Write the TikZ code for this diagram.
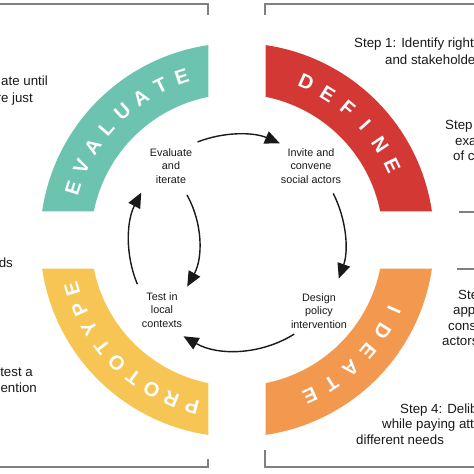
\documentclass[tikz,border=0pt]{standalone}
\usepackage{fontspec}
\setmainfont{Liberation Sans}
\usetikzlibrary{arrows.meta,calc}
\definecolor{cteal}{RGB}{108,196,176}
\definecolor{cred}{RGB}{211,56,52}
\definecolor{cyellow}{RGB}{246,197,84}
\definecolor{corange}{RGB}{243,152,79}
\definecolor{framegray}{RGB}{128,128,128}
\definecolor{textc}{RGB}{25,25,25}
\begin{document}
\begin{tikzpicture}[x=1pt,y=1pt,
  frame/.style={draw=framegray, line width=2.5pt},
  cyc/.style={line width=1.4pt, draw=textc, -{Triangle[length=15pt,width=13pt]}},
  inner/.style={align=center, font=\fontsize{10.8}{13.5}\selectfont, inner sep=0pt, text=textc},
  side/.style={font=\fontsize{13.3}{15.5}\selectfont, inner sep=0pt, text=textc},
  letter/.style={font=\fontsize{20}{20}\selectfont\bfseries, text=white, inner sep=0pt}]
\useasboundingbox (0,0) rectangle (474,474);
\clip (0,0) rectangle (474,474);
\coordinate (A) at (237,234);
\coordinate (B) at (237,231.5);
\coordinate (L) at (105,233);
% quadrant bands
\fill[cteal] ($(A)+(98.32:197pt)$) arc[start angle=98.32,end angle=171.68,radius=197pt]
  -- ($(A)+(168.74:146pt)$) arc[start angle=168.74,end angle=101.26,radius=146pt] -- cycle;
\fill[cred] ($(A)+(8.32:197pt)$) arc[start angle=8.32,end angle=81.68,radius=197pt]
  -- ($(A)+(78.74:146pt)$) arc[start angle=78.74,end angle=11.26,radius=146pt] -- cycle;
\fill[corange] ($(A)+(-81.68:197pt)$) arc[start angle=-81.68,end angle=-8.32,radius=197pt]
  -- ($(A)+(-11.26:146pt)$) arc[start angle=-11.26,end angle=-78.74,radius=146pt] -- cycle;
\fill[cyellow] ($(A)+(188.32:197pt)$) arc[start angle=188.32,end angle=261.68,radius=197pt]
  -- ($(A)+(258.74:146pt)$) arc[start angle=258.74,end angle=191.26,radius=146pt] -- cycle;
% letters
\foreach \l [count=\i from 0] in {E,V,A,L,U,A,T,E} {
  \pgfmathsetmacro\ang{162.4-\i*7.67}
  \node[letter, rotate=\ang-90] (ev\i) at ($(A)+(\ang:172pt)$) {\l};}
\foreach \l [count=\i from 0] in {D,E,F,I,N,E} {
  \pgfmathsetmacro\ang{66.3-\i*8.16}
  \node[letter, rotate=\ang-90] (de\i) at ($(A)+(\ang:172pt)$) {\l};}
\foreach \l [count=\i from 0] in {I,D,E,A,T,E} {
  \pgfmathsetmacro\ang{-24-\i*8.18}
  \node[letter, rotate=\ang-90] (id\i) at ($(A)+(\ang:172pt)$) {\l};}
\foreach \l [count=\i from 0] in {P,R,O,T,O,T,Y,P,E} {
  \pgfmathsetmacro\ang{254.9-\i*7.31}
  \node[letter, rotate=\ang-90] (pr\i) at ($(A)+(\ang:172pt)$) {\l};}
% inner labels
\node[inner] (eval) at (171,308) {Evaluate\\and\\iterate};
\node[inner] (invite) at (311,308) {Invite and\\convene\\social actors};
\node[inner] (test) at (162,164) {Test in\\local\\contexts};
\node[inner] (design) at (319,163) {Design\\policy\\intervention};
% cycle connectors
\coordinate (c1) at ($(B)+(111.4:108pt)$);
\coordinate (c2) at ($(B)+(27:108pt)$);
\coordinate (c3) at ($(B)+(-58:108pt)$);
\coordinate (c4) at ($(B)+(202.7:108pt)$);
\coordinate (c5) at ($(L)+(29.3:94pt)$);
\draw[cyc] (c1) arc[start angle=111.4,end angle=66.6,radius=108pt];
\draw[cyc] (c2) arc[start angle=27,end angle=-19.5,radius=108pt];
\draw[cyc] (c3) arc[start angle=-58,end angle=-119.7,radius=108pt];
\draw[cyc] (c4) arc[start angle=202.7,end angle=152.5,radius=108pt];
\draw[cyc] (c5) arc[start angle=29.3,end angle=-29,radius=94pt];
% frames
\draw[frame] (0,470) -- (208,470) -- (208,459);
\draw[frame] (265,459) -- (265,470) -- (474,470);
\draw[frame] (459,262) -- (474,262);
\draw[frame] (457,205) -- (474,205);
\draw[frame] (265,24) -- (265,7) -- (474,7);
\draw[frame] (208,15) -- (208,7) -- (0,7);
% side texts
\node[side, anchor=mid west] (s1a) at (354,429) {Step 1: Identify rights};
\node[side, anchor=mid west] (s1b) at (385,412) {and stakeholders};
\node[side, anchor=mid west] (s2a) at (445,347) {Step 2};
\node[side, anchor=mid west] (s2b) at (455,331) {exam};
\node[side, anchor=mid west] (s2c) at (453,316) {of c};
\node[side, anchor=mid west] (s3a) at (458,177) {Step};
\node[side, anchor=mid west] (s3b) at (453,162) {app};
\node[side, anchor=mid west] (s3c) at (448,146) {cons};
\node[side, anchor=mid west] (s3d) at (442,131) {actors};
\node[side, anchor=mid west] (s4a) at (400,63) {Step 4: Delib};
\node[side, anchor=mid west] (s4b) at (382,48) {while paying att};
\node[side, anchor=mid west] (s4c) at (356,32) {different needs};
\node[side, anchor=mid east] (l1a) at (48,391) {ate until};
\node[side, anchor=mid east] (l1b) at (33,374) {re just};
\node[side, anchor=mid east] (l2) at (13,209) {eds};
\node[side, anchor=mid east] (l3a) at (33,100) {test a};
\node[side, anchor=mid east] (l3b) at (37,84) {ention};
\end{tikzpicture}
\end{document}
